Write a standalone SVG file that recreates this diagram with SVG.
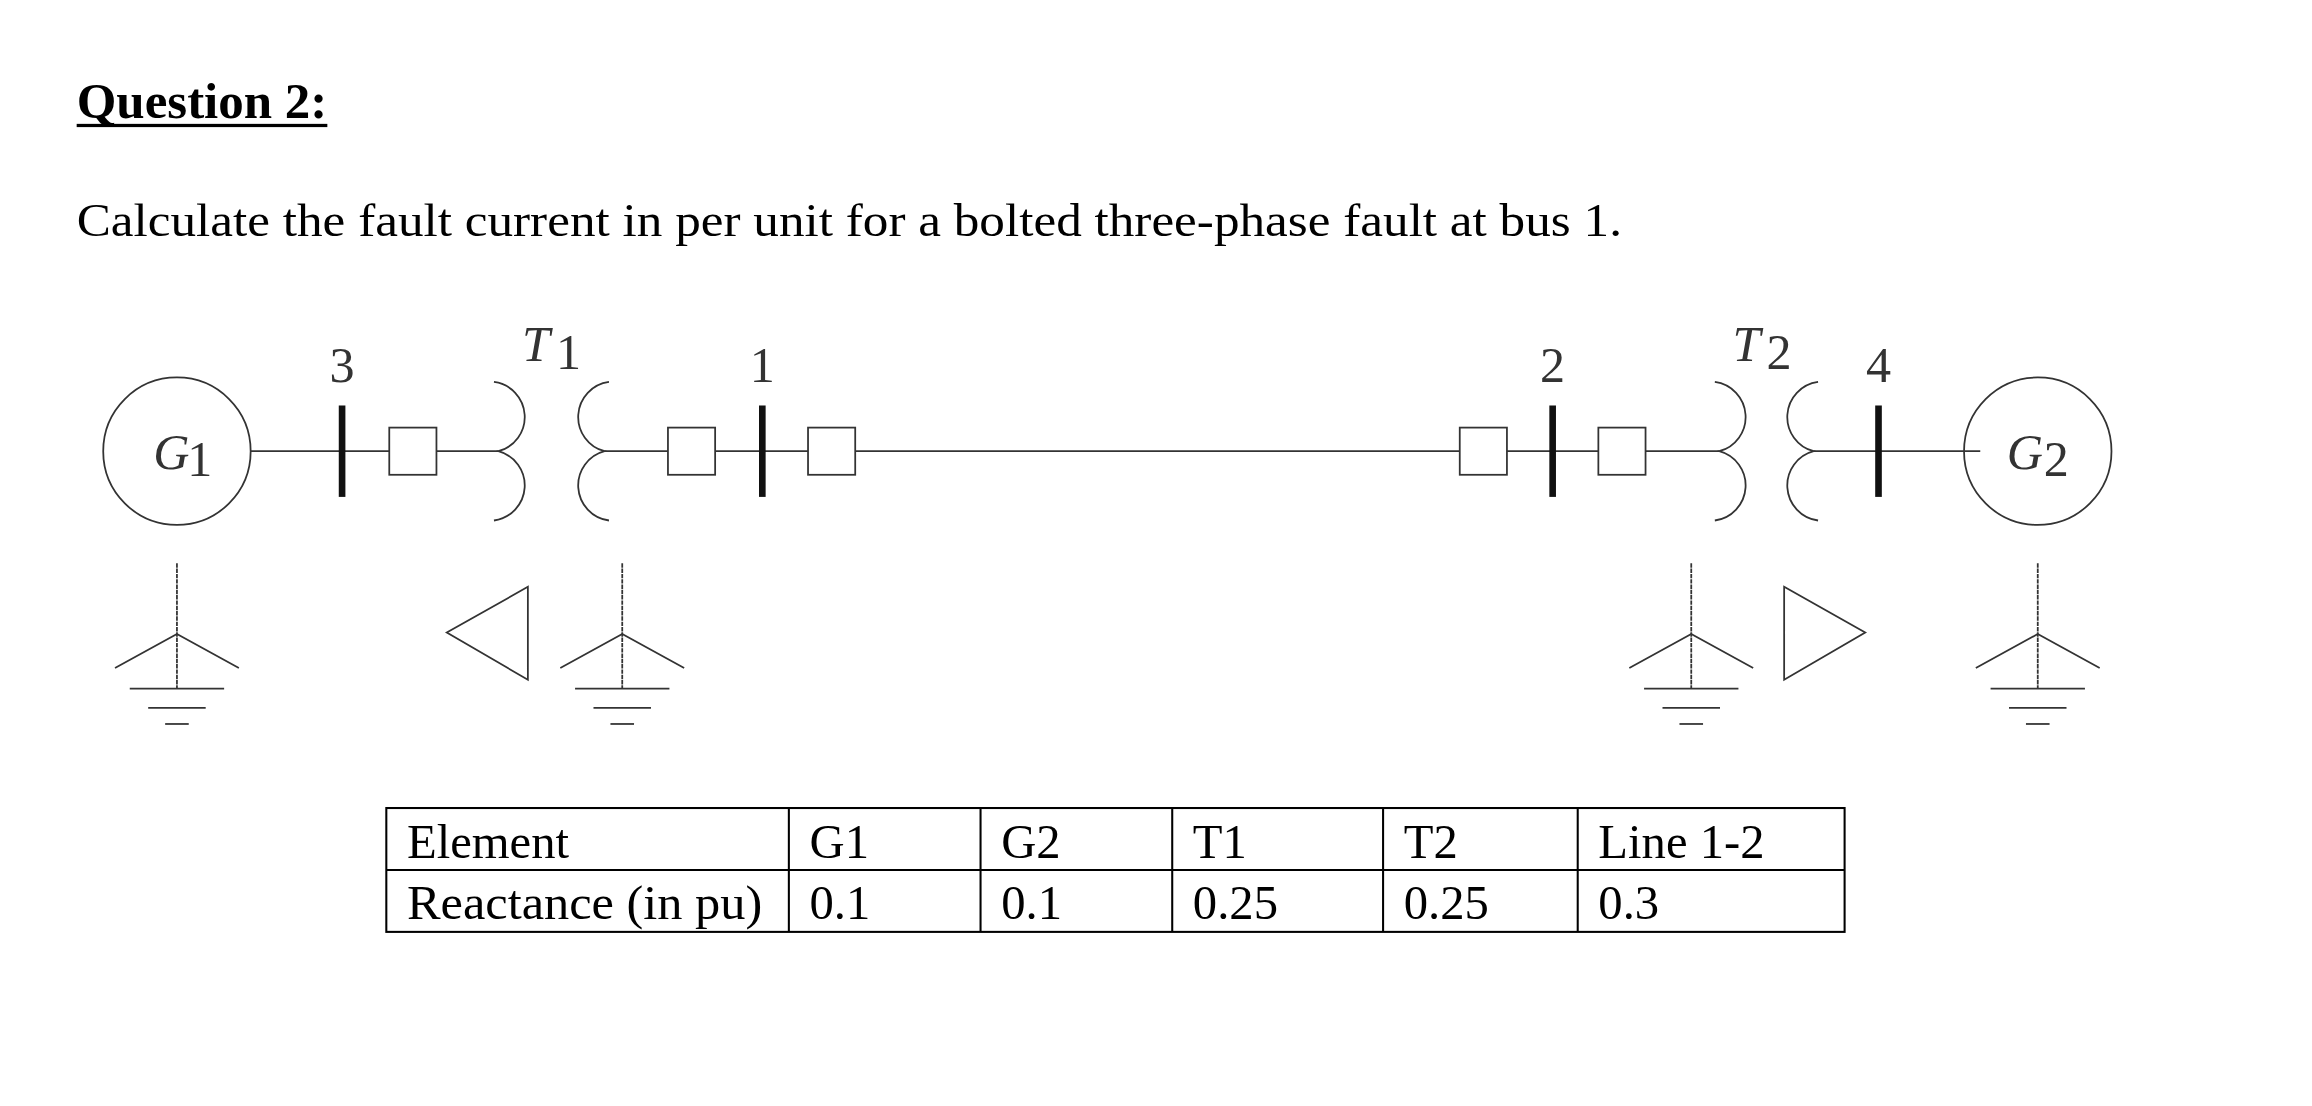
<svg xmlns="http://www.w3.org/2000/svg" width="2312" height="1106" viewBox="0 0 2312 1106">
<style>
.t{font-family:"Liberation Serif","Times New Roman",serif;fill:#000}
.m{font-family:"Liberation Serif",serif;fill:#333;font-size:34px}
.ln{stroke:#333;stroke-width:1.2;fill:none}
.bus{stroke:#111;stroke-width:4.5}
.box{fill:#fff;stroke:#333;stroke-width:1.2}
.tb{stroke:#000;stroke-width:1.4;fill:none}
</style>
<defs>
<g id="wye">
<line class="ln" x1="0" y1="382" x2="0" y2="467" stroke-dasharray="3,0.6"/>
<polyline class="ln" points="-42,453 0,430 42,453"/>
<line class="ln" x1="-32" y1="467" x2="32" y2="467"/>
<line class="ln" x1="-19.5" y1="480" x2="19.5" y2="480"/>
<line class="ln" x1="-8" y1="491" x2="8" y2="491"/>
</g>
</defs>
<rect width="2312" height="1106" fill="#fff"/>
<g transform="scale(1.4745)">
<g id="title">
<text class="t" x="52" y="80" font-size="34" font-weight="bold" textLength="170" lengthAdjust="spacingAndGlyphs">Question 2:</text>
<rect x="52" y="84" width="170" height="2.2" fill="#000"/>
<text class="t" x="52" y="160" font-size="31" textLength="1048" lengthAdjust="spacingAndGlyphs">Calculate the fault current in per unit for a bolted three-phase fault at bus 1.</text>
</g>
<g id="connectors">
<line class="ln" x1="170" y1="306" x2="338" y2="306"/>
<line class="ln" x1="410" y1="306" x2="1166" y2="306"/>
<line class="ln" x1="1230" y1="306" x2="1343" y2="306"/>
</g>
<g id="G1"><circle class="ln" cx="120" cy="306" r="50"/>
<text class="m" x="104" y="318" font-style="italic">G</text><text class="m" x="127" y="323" font-size="24">1</text></g>
<g id="bus3"><line class="bus" x1="232" y1="275" x2="232" y2="337"/><text class="m" x="232" y="259" text-anchor="middle">3</text></g>
<g id="cb1"><rect class="box" x="264" y="290" width="32" height="32"/></g>
<g id="T1">
<path class="ln" d="M335,259 A24 24 0 0 1 338,306 A24 24 0 0 1 335,353"/>
<path class="ln" d="M413,259 A24 24 0 0 0 410,306 A24 24 0 0 0 413,353"/>
<text class="m" x="354" y="245" font-style="italic">T</text><text class="m" x="377" y="250" font-size="24">1</text>
<polygon class="ln" points="358,398 303,429 358,461"/>
<use href="#wye" x="422"/>
</g>
<g id="cb2"><rect class="box" x="453" y="290" width="32" height="32"/></g>
<g id="bus1"><line class="bus" x1="517" y1="275" x2="517" y2="337"/><text class="m" x="517" y="259" text-anchor="middle">1</text></g>
<g id="cb3"><rect class="box" x="548" y="290" width="32" height="32"/></g>
<g id="cb4"><rect class="box" x="990" y="290" width="32" height="32"/></g>
<g id="bus2"><line class="bus" x1="1053" y1="275" x2="1053" y2="337"/><text class="m" x="1053" y="259" text-anchor="middle">2</text></g>
<g id="cb5"><rect class="box" x="1084" y="290" width="32" height="32"/></g>
<g id="T2">
<path class="ln" d="M1163,259 A24 24 0 0 1 1166,306 A24 24 0 0 1 1163,353"/>
<path class="ln" d="M1233,259 A24 24 0 0 0 1230,306 A24 24 0 0 0 1233,353"/>
<text class="m" x="1175" y="245" font-style="italic">T</text><text class="m" x="1198" y="250" font-size="24">2</text>
<polygon class="ln" points="1210,398 1265,429 1210,461"/>
<use href="#wye" x="1147"/>
</g>
<g id="bus4"><line class="bus" x1="1274" y1="275" x2="1274" y2="337"/><text class="m" x="1274" y="259" text-anchor="middle">4</text></g>
<g id="G2"><circle class="ln" cx="1382" cy="306" r="50"/>
<text class="m" x="1361" y="318" font-style="italic">G</text><text class="m" x="1386" y="323" font-size="24">2</text></g>
<g id="G1gnd"><use href="#wye" x="120"/></g>
<g id="G2gnd"><use href="#wye" x="1382"/></g>
<g id="table">
<rect class="tb" x="262" y="548" width="989" height="84"/>
<line class="tb" x1="262" y1="590" x2="1251" y2="590"/>
<line class="tb" x1="535" y1="548" x2="535" y2="632"/>
<line class="tb" x1="665" y1="548" x2="665" y2="632"/>
<line class="tb" x1="795" y1="548" x2="795" y2="632"/>
<line class="tb" x1="938" y1="548" x2="938" y2="632"/>
<line class="tb" x1="1070" y1="548" x2="1070" y2="632"/>
<g class="t" font-size="33">
<text x="276" y="582">Element</text><text x="549" y="582">G1</text><text x="679" y="582">G2</text><text x="809" y="582">T1</text><text x="952" y="582">T2</text><text x="1084" y="582">Line 1-2</text>
<text x="276" y="623" textLength="241" lengthAdjust="spacingAndGlyphs">Reactance (in pu)</text><text x="549" y="623">0.1</text><text x="679" y="623">0.1</text><text x="809" y="623">0.25</text><text x="952" y="623">0.25</text><text x="1084" y="623">0.3</text>
</g>
</g>
</g>
</svg>
